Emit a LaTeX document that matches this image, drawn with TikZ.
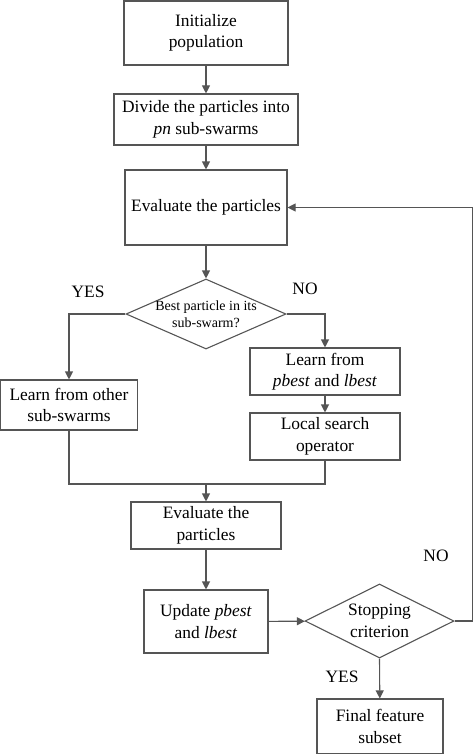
\documentclass[tikz,border=0pt]{standalone}
\usepackage{fontspec}
\setmainfont{Liberation Serif}
\usepackage{xcolor}
\usetikzlibrary{arrows.meta, shapes.geometric}

\definecolor{linegray}{HTML}{555555}
\newcommand{\flowfont}{\fontsize{17.4bp}{21.5bp}\selectfont}
\newcommand{\smallflowfont}{\fontsize{14bp}{17bp}\selectfont}

\begin{document}
\begin{tikzpicture}[x=1bp, y=-1bp,
    box/.style={draw=linegray, line width=1.1bp, align=center, inner sep=0pt, font=\flowfont},
    decision/.style={draw=linegray, line width=1.1bp, diamond, inner sep=0pt},
    flow/.style={draw=linegray, line width=1.1bp, -{Triangle[length=8bp, width=8bp]}},
    plain/.style={draw=linegray, line width=1.1bp},
    tag/.style={font=\flowfont, inner sep=0pt}]
    \useasboundingbox (0,0) rectangle (474,754);

    % Boxes of the main column
    \node[box, minimum width=164bp, minimum height=64bp] (init) at (206,33) {Initialize\\population};
    \node[box, minimum width=184bp, minimum height=51bp] (divide) at (206,119.5) {Divide the particles into\\\textit{pn} sub-swarms};
    \node[box, minimum width=162bp, minimum height=75bp] (eval1) at (206,207.5) {Evaluate the particles};

    % First decision
    \node[decision, minimum width=160bp, minimum height=70bp,
          label={[font=\smallflowfont, align=center]center:Best particle in its\\sub-swarm?}] (best) at (206,314) {};
    \node[tag] (yes1) at (88,292) {YES};
    \node[tag] (no1) at (305,289) {NO};

    % Two branches
    \node[box, minimum width=137bp, minimum height=50bp] (other) at (69,405) {Learn from other\\sub-swarms};
    \node[box, minimum width=150bp, minimum height=47bp] (learn) at (325,371.5) {Learn from\\\textit{pbest} and \textit{lbest}};
    \node[box, minimum width=150bp, minimum height=47bp] (local) at (325,436.5) {Local search\\operator};
    \coordinate (merge) at (206,484);

    % Lower part
    \node[box, minimum width=150bp, minimum height=47bp] (eval2) at (206,525.5) {Evaluate the\\particles};
    \node[box, minimum width=124bp, minimum height=63bp] (update) at (206,621.5) {Update \textit{pbest}\\and \textit{lbest}};
    \node[decision, minimum width=149bp, minimum height=74bp,
          label={[font=\flowfont, align=center]center:Stopping\\criterion}] (stop) at (379.5,621) {};
    \node[tag] (no2) at (436,556) {NO};
    \node[tag] (yes2) at (342,677) {YES};
    \node[box, minimum width=126bp, minimum height=55bp] (final) at (380,726.5) {Final feature\\subset};
    \coordinate (back) at (472.5,621);

    % Connectors
    \draw[flow] (init) -- (divide);
    \draw[flow] (divide) -- (eval1);
    \draw[flow] (eval1) -- (best);
    \draw[flow] (best.west) -| (other.north);
    \draw[flow] (best.east) -| (learn.north);
    \draw[flow] (learn) -- (local);
    \draw[plain] (other.south) |- (merge) -| (local.south);
    \draw[flow] (merge) -- (eval2);
    \draw[flow] (eval2) -- (update);
    \draw[flow] (update) -- (stop);
    \draw[flow] (stop.south) -- (final);
    \draw[flow] (stop.east) -- (back) |- (eval1.east);
\end{tikzpicture}
\end{document}
